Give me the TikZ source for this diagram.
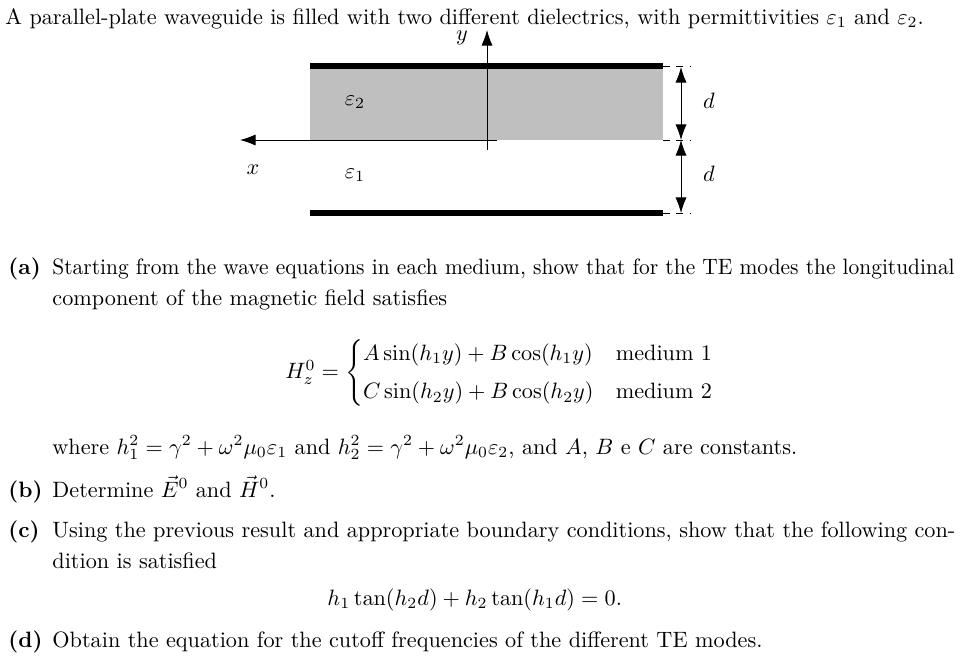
\documentclass[tikz,border=0pt]{standalone}
\usepackage{amsmath}
\usetikzlibrary{arrows.meta}
\begin{document}
\begin{tikzpicture}[x=0.45pt,y=-0.45pt,
  txt/.style={anchor=base west,inner sep=0pt},
  plate/.style={line width=2.4pt},
  dimarr/.style={-{Latex[length=7pt,width=5pt]}},
  dash/.style={dashed,line width=0.4pt}]
\useasboundingbox (0,0) rectangle (965,661);
% figure
\fill[gray!50] (310,66) rectangle (663,140);
\draw[plate] (310,66) -- (663,66);
\draw[plate] (310,213) -- (663,213);
\draw[-{Latex[length=7pt,width=5pt]}] (497,140) -- (240,140);
\draw[-{Latex[length=7pt,width=5pt]}] (487,150) -- (487,30);
\draw[dashed] (663,66) -- (690,66);
\draw[dashed] (663,140) -- (690,140);
\draw[dashed] (663,213) -- (690,213);
\coordinate (t) at (681,67); \coordinate (m) at (681,140); \coordinate (b) at (681,213);
\coordinate (c1) at (681,103); \coordinate (c2) at (681,176);
\draw[dimarr] (c1) -- (t); \draw[dimarr] (c1) -- (m);
\draw[dimarr] (c2) -- (m); \draw[dimarr] (c2) -- (b);
\node (d1) at (709,101) {$d$};
\node (d2) at (709,174) {$d$};
\node (e2) at (355,102) {$\varepsilon_2$};
\node (e1) at (355,175) {$\varepsilon_1$};
\node (xl) at (253,170) {$x$};
\node (yl) at (462,38) {$y$};
% text
\node[txt] (l0) at (5,24) {A parallel-plate waveguide is filled with two different dielectrics, with permittivities $\varepsilon_1$ and $\varepsilon_2$.};
\node[txt] (la) at (8,274) {\textbf{(a)}};
\node[txt] (a1) at (52,274) {\resizebox{406pt}{\height}{Starting from the wave equations in each medium, show that for the TE modes the longitudinal}};
\node[txt] (a2) at (52,305) {component of the magnetic field satisfies};
\node (eq1) at (500,373) {$H_z^0=\begin{cases}A\sin(h_1y)+B\cos(h_1y) & \text{medium 1}\\[3pt] C\sin(h_2y)+B\cos(h_2y) & \text{medium 2}\end{cases}$};
\node[txt] (a3) at (52,454) {where $h_1^2=\gamma^2+\omega^2\mu_0\varepsilon_1$ and $h_2^2=\gamma^2+\omega^2\mu_0\varepsilon_2$, and $A$, $B$ e $C$ are constants.};
\node[txt] (lb) at (8,497) {\textbf{(b)}};
\node[txt] (b1) at (52,497) {Determine $\vec{E}^0$ and $\vec{H}^0$.};
\node[txt] (lc) at (8,537) {\textbf{(c)}};
\node[txt] (c1t) at (52,537) {Using the previous result and appropriate boundary conditions, show that the following con-};
\node[txt] (c2t) at (52,568) {dition is satisfied};
\node[txt] (eq2) at (327,605) {$h_1\tan(h_2d)+h_2\tan(h_1d)=0.$};
\node[txt] (ld) at (8,647) {\textbf{(d)}};
\node[txt] (d1t) at (52,647) {Obtain the equation for the cutoff frequencies of the different TE modes.};
\end{tikzpicture}
\end{document}
